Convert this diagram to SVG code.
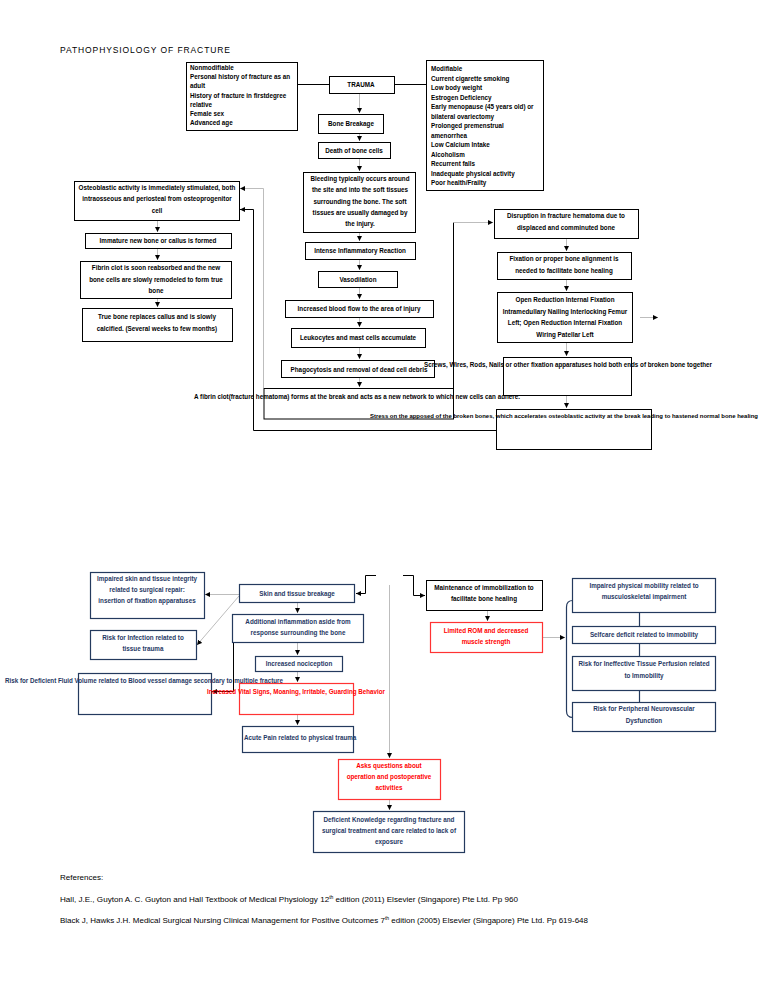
<svg xmlns="http://www.w3.org/2000/svg" width="768" height="1006" viewBox="0 0 768 1006">
<style>
.t{font-family:"Liberation Sans Narrow","Liberation Sans",Arial,sans-serif;font-size:6.3px;font-weight:bold;fill:#000;text-anchor:middle}
.l{text-anchor:start}
.n{fill:#1f3864}
.r{fill:#ff0000}
.b{fill:#fff;stroke:#000;stroke-width:1}
.bn{fill:#fff;stroke:#243a5e;stroke-width:1.2}
.br{fill:#fff;stroke:#ff3333;stroke-width:1.2}
.k{fill:none;stroke:#000;stroke-width:1}
.g{fill:none;stroke:#bdbdbd;stroke-width:1}
.ref{font-family:"Liberation Sans",Arial,sans-serif;font-size:8px;fill:#000}
</style>
<defs>
<marker id="ah" markerWidth="6" markerHeight="6" refX="5" refY="3" orient="auto" markerUnits="userSpaceOnUse">
<path d="M0,0.5 L5,3 L0,5.5 Z" fill="#000"/>
</marker>
</defs>
<rect width="768" height="1006" fill="#fff"/>
<text x="60" y="53" font-family="Liberation Sans,Arial,sans-serif" font-size="8.5" textLength="170" lengthAdjust="spacing" fill="#000">PATHOPHYSIOLOGY OF FRACTURE</text>

<g id="connectors">
<path class="k" d="M297,84.5 H329"/>
<path class="k" d="M394,84.5 H426 M394.5,82 V84.5"/>
<path class="g" d="M359.5,93 V113" marker-end="url(#ah)"/>
<path class="g" d="M359.5,133 V141" marker-end="url(#ah)"/>
<path class="g" d="M359.5,158 V171" marker-end="url(#ah)"/>
<path class="g" d="M359.5,232 V241" marker-end="url(#ah)"/>
<path class="g" d="M359.5,259 V270" marker-end="url(#ah)"/>
<path class="g" d="M359.5,287 V299" marker-end="url(#ah)"/>
<path class="g" d="M359.5,317 V327" marker-end="url(#ah)"/>
<path class="g" d="M359.5,347 V359" marker-end="url(#ah)"/>
<path class="g" d="M359.5,377 V387" marker-end="url(#ah)"/>
<path class="g" d="M157.5,220 V232" marker-end="url(#ah)"/>
<path class="g" d="M157.5,248 V260" marker-end="url(#ah)"/>
<path class="g" d="M157.5,298 V307" marker-end="url(#ah)"/>
<path class="g" d="M263.5,388 V188.5 H240" marker-end="url(#ah)"/>
<path class="k" d="M496,430.5 H253.5 V209.5 H240" marker-end="url(#ah)"/>
<path class="k" d="M453.5,388 V222.5"/>
<path class="g" d="M453.5,222.5 H493" marker-end="url(#ah)"/>
<path class="g" d="M566.5,238 V251" marker-end="url(#ah)"/>
<path class="g" d="M566.5,279 V291" marker-end="url(#ah)"/>
<path class="g" d="M566.5,342 V356" marker-end="url(#ah)"/>
<path class="g" d="M640,317.5 H658" marker-end="url(#ah)"/>
<path class="g" d="M566.5,395 V408" marker-end="url(#ah)"/>

<path class="k" d="M376,575.5 H365.5 V593.5 H356" marker-end="url(#ah)"/>
<path class="k" d="M403,575.5 H413.5 V595.5 H425" marker-end="url(#ah)"/>
<path class="g" d="M239,594.5 H205" marker-end="url(#ah)"/>
<path class="g" d="M239,596 L197,645" marker-end="url(#ah)"/>
<path class="g" d="M297.5,603 V613" marker-end="url(#ah)"/>
<path class="g" d="M297.5,642 V655" marker-end="url(#ah)"/>
<path class="g" d="M297.5,671 V682" marker-end="url(#ah)"/>
<path class="g" d="M297.5,714 V725" marker-end="url(#ah)"/>
<path class="k" d="M233.5,642 V691.5 H212" marker-end="url(#ah)"/>
<path class="g" d="M389.5,585 V758" marker-end="url(#ah)"/>
<path class="g" d="M389.5,799 V810" marker-end="url(#ah)"/>
<path class="g" d="M487.5,610 V621" marker-end="url(#ah)"/>
<path class="g" d="M542,637.5 H565" marker-end="url(#ah)"/>
<path d="M573,600.5 Q566.5,600.5 566.5,607 V711 Q566.5,717.5 573,717.5" fill="none" stroke="#243a5e" stroke-width="1.2"/>
<path d="M639.5,612 V626 M639.5,643 V656 M639.5,690 V702" fill="none" stroke="#243a5e" stroke-width="1.2"/>
</g>

<g id="nonmodifiable">
<rect class="b" x="186.5" y="62.5" width="111" height="68"/>
<text class="t l" x="190" y="70">Nonmodifiable</text>
<text class="t l" x="190" y="79">Personal history of fracture as an</text>
<text class="t l" x="190" y="88">adult</text>
<text class="t l" x="190" y="98">History of fracture in firstdegree</text>
<text class="t l" x="190" y="107">relative</text>
<text class="t l" x="190" y="116">Female sex</text>
<text class="t l" x="190" y="125">Advanced age</text>
</g>
<g id="trauma">
<rect class="b" x="329.5" y="76.5" width="65" height="17"/>
<text class="t" x="361" y="87">TRAUMA</text>
</g>
<g id="modifiable">
<rect class="b" x="426.5" y="60.5" width="117" height="130"/>
<text class="t l" x="431" y="71">Modifiable</text>
<text class="t l" x="431" y="80.5">Current cigarette smoking</text>
<text class="t l" x="431" y="90">Low body weight</text>
<text class="t l" x="431" y="99.5">Estrogen Deficiency</text>
<text class="t l" x="431" y="109">Early menopause (45 years old) or</text>
<text class="t l" x="431" y="118.5">bilateral ovariectomy</text>
<text class="t l" x="431" y="128">Prolonged premenstrual</text>
<text class="t l" x="431" y="137.5">amenorrhea</text>
<text class="t l" x="431" y="147">Low Calcium Intake</text>
<text class="t l" x="431" y="156.5">Alcoholism</text>
<text class="t l" x="431" y="166">Recurrent falls</text>
<text class="t l" x="431" y="175.5">Inadequate physical activity</text>
<text class="t l" x="431" y="185">Poor health/Frailty</text>
</g>
<g id="bone-breakage">
<rect class="b" x="318.5" y="114.5" width="65" height="19"/>
<text class="t" x="351" y="126">Bone Breakage</text>
</g>
<g id="death">
<rect class="b" x="318.5" y="142.5" width="72" height="16"/>
<text class="t" x="354" y="152.5">Death of bone cells</text>
</g>
<g id="bleeding">
<rect class="b" x="303.5" y="172.5" width="112" height="60"/>
<text class="t" x="360" y="181">Bleeding typically occurs around</text>
<text class="t" x="360" y="192">the site and into the soft tissues</text>
<text class="t" x="360" y="203.5">surrounding the bone. The soft</text>
<text class="t" x="360" y="215">tissues are usually damaged by</text>
<text class="t" x="360" y="226">the injury.</text>
</g>
<g id="intense">
<rect class="b" x="305.5" y="242.5" width="110" height="17"/>
<text class="t" x="360" y="253">Intense Inflammatory Reaction</text>
</g>
<g id="vasodilation">
<rect class="b" x="318.5" y="271.5" width="79" height="16"/>
<text class="t" x="358" y="281.5">Vasodilation</text>
</g>
<g id="blood-flow">
<rect class="b" x="285.5" y="300.5" width="148" height="17"/>
<text class="t" x="359" y="311">Increased blood flow to the area of injury</text>
</g>
<g id="leukocytes">
<rect class="b" x="291.5" y="328.5" width="134" height="19"/>
<text class="t" x="358" y="340">Leukocytes and mast cells accumulate</text>
</g>
<g id="phagocytosis">
<rect class="b" x="281.5" y="360.5" width="153" height="17"/>
<text class="t" x="359" y="371.5">Phagocytosis and removal of dead cell debris</text>
</g>
<g id="fibrin-hematoma">
<rect class="b" x="264" y="388.5" width="189.5" height="30.5" style="fill:none"/>
<text class="t" x="357" y="399" textLength="326" lengthAdjust="spacingAndGlyphs">A fibrin clot(fracture hematoma) forms at the break and acts as a new network to which new cells can adhere.</text>
</g>
<g id="osteoblastic">
<rect class="b" x="74.5" y="181.5" width="165" height="39"/>
<text class="t" x="157" y="190">Osteoblastic activity is immediately stimulated, both</text>
<text class="t" x="157" y="201">intraosseous and periosteal from osteoprogenitor</text>
<text class="t" x="157" y="213">cell</text>
</g>
<g id="immature">
<rect class="b" x="85.5" y="233.5" width="146" height="15"/>
<text class="t" x="158" y="243">Immature new bone or callus is formed</text>
</g>
<g id="fibrin-soon">
<rect class="b" x="80.5" y="261.5" width="151" height="37"/>
<text class="t" x="156" y="270">Fibrin clot is soon reabsorbed and the new</text>
<text class="t" x="156" y="281.5">bone cells are slowly remodeled to form true</text>
<text class="t" x="156" y="293">bone</text>
</g>
<g id="true-bone">
<rect class="b" x="82.5" y="308.5" width="150" height="33"/>
<text class="t" x="157" y="319">True bone replaces callus and is slowly</text>
<text class="t" x="157" y="331">calcified. (Several weeks to few months)</text>
</g>
<g id="disruption">
<rect class="b" x="494.5" y="209.5" width="144" height="29"/>
<text class="t" x="566" y="218">Disruption in fracture hematoma due to</text>
<text class="t" x="566" y="230">displaced and comminuted bone</text>
</g>
<g id="fixation">
<rect class="b" x="497.5" y="252.5" width="134" height="27"/>
<text class="t" x="564" y="261">Fixation or proper bone alignment is</text>
<text class="t" x="564" y="273">needed to facilitate bone healing</text>
</g>
<g id="orif">
<rect class="b" x="497.5" y="292.5" width="135" height="50"/>
<text class="t" x="565" y="302">Open Reduction Internal Fixation</text>
<text class="t" x="565" y="313.5">Intramedullary Nailing Interlocking Femur</text>
<text class="t" x="565" y="325">Left; Open Reduction Internal Fixation</text>
<text class="t" x="565" y="336.5">Wiring Patellar Left</text>
</g>
<g id="screws">
<rect class="b" x="503.5" y="357.5" width="128" height="38"/>
<text class="t" x="568" y="367" textLength="288" lengthAdjust="spacingAndGlyphs">Screws, Wires, Rods, Nails or other fixation apparatuses  hold both ends of broken bone together</text>
</g>
<g id="stress">
<rect class="b" x="496.5" y="409.5" width="155" height="40"/>
<text class="t l" x="370" y="418" font-size="5.6" style="font-size:5.6px" textLength="388" lengthAdjust="spacingAndGlyphs">Stress on the apposed of the broken bones, which accelerates osteoblastic activity at the break leading to hastened normal bone healing</text>
</g>

<g id="impaired-skin">
<rect class="bn" x="90.5" y="572.5" width="114" height="46"/>
<text class="t n" x="147" y="581">Impaired skin and tissue integrity</text>
<text class="t n" x="147" y="592">related to surgical repair:</text>
<text class="t n" x="147" y="603">insertion of fixation apparatuses</text>
</g>
<g id="risk-infection">
<rect class="bn" x="90.5" y="630.5" width="106" height="29"/>
<text class="t n" x="143" y="640">Risk for Infection related to</text>
<text class="t n" x="143" y="651">tissue trauma</text>
</g>
<g id="risk-fluid">
<rect class="bn" x="78.5" y="673.5" width="133" height="41"/>
<text class="t n l" x="5" y="683" textLength="278" lengthAdjust="spacingAndGlyphs">Risk for Deficient Fluid Volume related to Blood vessel damage secondary to multiple fracture</text>
</g>
<g id="skin-breakage">
<rect class="bn" x="239.5" y="584.5" width="115" height="18"/>
<text class="t n" x="297" y="595.5">Skin and tissue breakage</text>
</g>
<g id="additional">
<rect class="bn" x="232.5" y="614.5" width="131" height="28"/>
<text class="t n" x="298" y="624">Additional inflammation aside from</text>
<text class="t n" x="298" y="635">response surrounding the bone</text>
</g>
<g id="nociception">
<rect class="bn" x="255.5" y="656.5" width="87" height="15"/>
<text class="t n" x="299" y="666">Increased nociception</text>
</g>
<g id="vital-signs">
<rect class="br" x="239.5" y="683.5" width="114" height="31"/>
<text class="t r l" x="207" y="694" textLength="178" lengthAdjust="spacingAndGlyphs">Increased Vital Signs, Moaning, Irritable, Guarding Behavior</text>
</g>
<g id="acute-pain">
<rect class="bn" x="242.5" y="726.5" width="111" height="26"/>
<text class="t n l" x="244" y="740">Acute Pain related to physical trauma</text>
</g>
<g id="asks-questions">
<rect class="br" x="338.5" y="759.5" width="102" height="40"/>
<text class="t r" x="389" y="768">Asks questions about</text>
<text class="t r" x="389" y="779">operation and postoperative</text>
<text class="t r" x="389" y="790">activities</text>
</g>
<g id="deficient-knowledge">
<rect class="bn" x="313.5" y="811.5" width="151" height="41"/>
<text class="t n" x="389" y="822">Deficient Knowledge regarding fracture and</text>
<text class="t n" x="389" y="833">surgical treatment and care related to lack of</text>
<text class="t n" x="389" y="844">exposure</text>
</g>
<g id="maintenance">
<rect class="b" x="426.5" y="580.5" width="116" height="30"/>
<text class="t" x="484" y="590">Maintenance of immobilization to</text>
<text class="t" x="484" y="601">facilitate bone healing</text>
</g>
<g id="limited-rom">
<rect class="br" x="430.5" y="622.5" width="112" height="30"/>
<text class="t r" x="486" y="633">Limited ROM and decreased</text>
<text class="t r" x="486" y="644">muscle strength</text>
</g>
<g id="impaired-mobility">
<rect class="bn" x="572.5" y="578.5" width="143" height="34"/>
<text class="t n" x="644" y="588">Impaired physical mobility related to</text>
<text class="t n" x="644" y="599">musculoskeletal impairment</text>
</g>
<g id="self-care">
<rect class="bn" x="572.5" y="626.5" width="143" height="17"/>
<text class="t n" x="644" y="637">Selfcare deficit related to immobility</text>
</g>
<g id="tissue-perfusion">
<rect class="bn" x="572.5" y="656.5" width="143" height="34"/>
<text class="t n" x="644" y="666">Risk for Ineffective Tissue Perfusion related</text>
<text class="t n" x="644" y="678">to Immobility</text>
</g>
<g id="neurovascular">
<rect class="bn" x="572.5" y="702.5" width="143" height="29"/>
<text class="t n" x="644" y="711">Risk for Peripheral Neurovascular</text>
<text class="t n" x="644" y="723">Dysfunction</text>
</g>

<g id="references">
<text class="ref" x="60" y="880">References:</text>
<text class="ref" x="60" y="902" textLength="458" lengthAdjust="spacingAndGlyphs">Hall, J.E., Guyton A. C. Guyton and Hall Textbook of Medical Physiology 12<tspan font-size="5" dy="-3">th</tspan><tspan dy="3"> edition (2011) Elsevier (Singapore) Pte Ltd. Pp 960</tspan></text>
<text class="ref" x="60" y="923" textLength="528" lengthAdjust="spacingAndGlyphs">Black J, Hawks J.H. Medical Surgical Nursing Clinical Management for Positive Outcomes 7<tspan font-size="5" dy="-3">th</tspan><tspan dy="3"> edition (2005) Elsevier (Singapore) Pte Ltd. Pp 619-648</tspan></text>
</g>
</svg>
